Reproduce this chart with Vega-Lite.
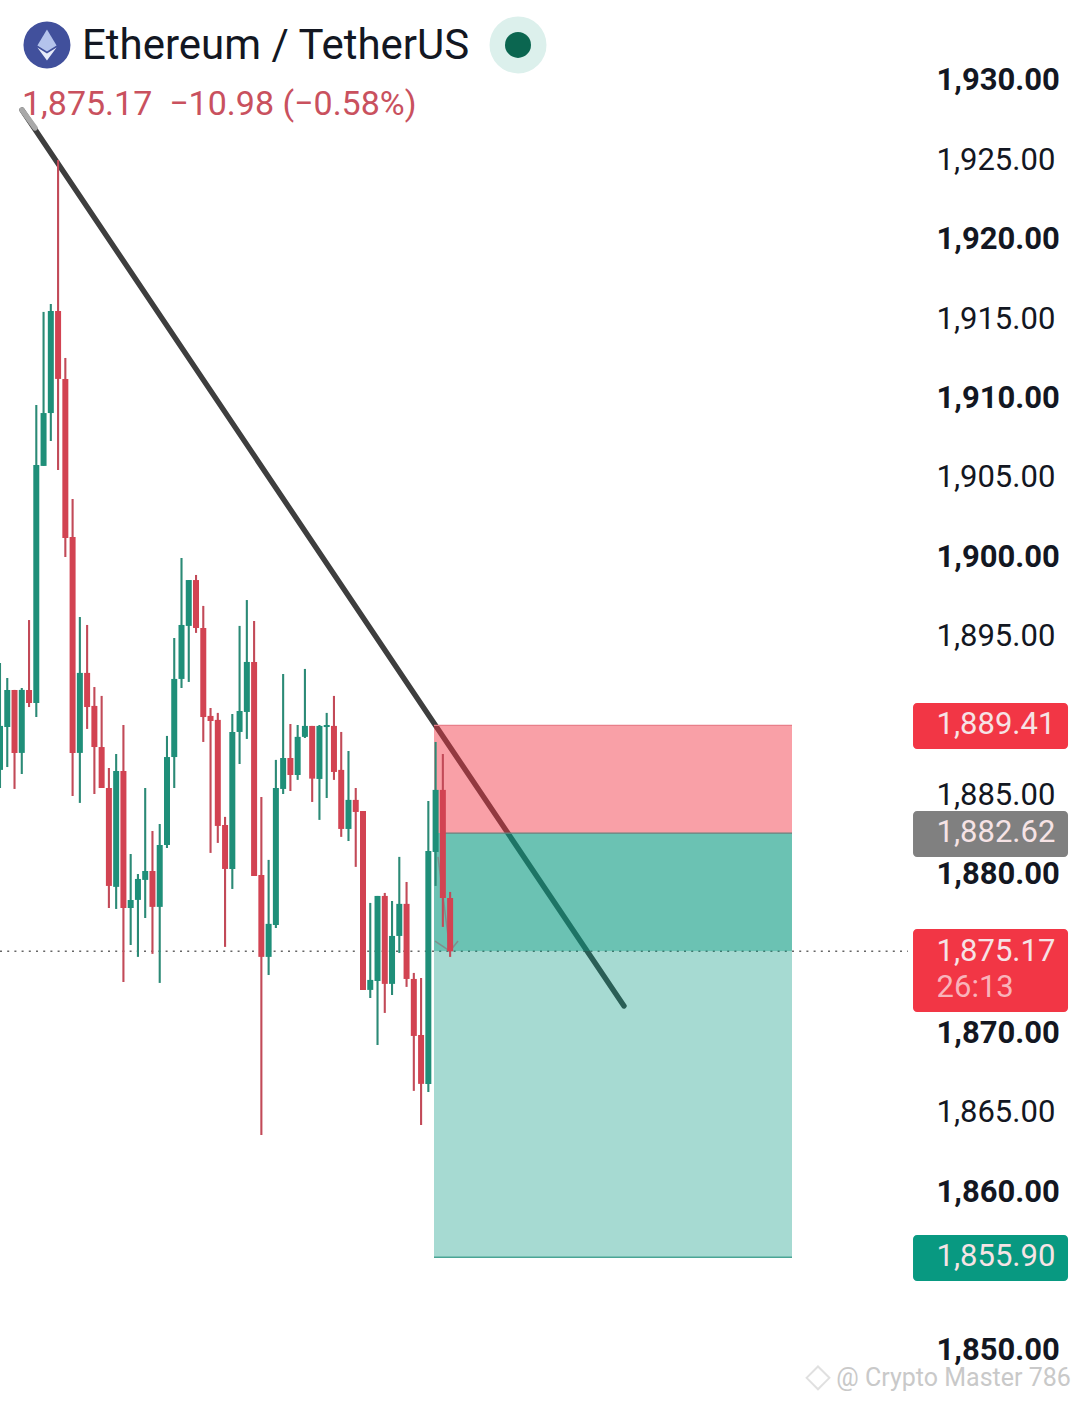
{
"$schema":"https://vega.github.io/schema/vega-lite/v6.json",
"width":1080,"height":1402,"padding":0,"autosize":{"type":"none"},"background":"white",
"config":{"view":{"stroke":null},"text":{"font":"Roboto"},"axis":{"labelFont":"Roboto"}},
"resolve":{"scale":{"fill":"independent","stroke":"independent"},"axis":{"y":"independent"}},
"datasets":{
"candles":[
{"i":0,"dir":"up","open":1886.60,"high":1893.34,"low":1885.46,"close":1889.37},
{"i":1,"dir":"up","open":1889.30,"high":1892.39,"low":1886.78,"close":1891.64},
{"i":2,"dir":"down","open":1891.64,"high":1891.64,"low":1885.40,"close":1887.67},
{"i":3,"dir":"up","open":1887.67,"high":1891.76,"low":1886.34,"close":1891.64},
{"i":4,"dir":"down","open":1891.64,"high":1896.04,"low":1890.56,"close":1890.82},
{"i":5,"dir":"up","open":1890.82,"high":1909.59,"low":1889.93,"close":1905.81},
{"i":6,"dir":"up","open":1905.75,"high":1915.45,"low":1905.75,"close":1909.08},
{"i":7,"dir":"up","open":1909.08,"high":1915.95,"low":1907.32,"close":1915.51},
{"i":8,"dir":"down","open":1915.51,"high":1925.02,"low":1905.49,"close":1911.23},
{"i":9,"dir":"down","open":1911.23,"high":1912.55,"low":1900.01,"close":1901.21},
{"i":10,"dir":"down","open":1901.27,"high":1903.67,"low":1884.96,"close":1887.67},
{"i":11,"dir":"up","open":1887.67,"high":1896.23,"low":1884.52,"close":1892.71},
{"i":12,"dir":"down","open":1892.71,"high":1895.73,"low":1889.18,"close":1890.56},
{"i":13,"dir":"down","open":1890.63,"high":1891.82,"low":1885.08,"close":1888.04},
{"i":14,"dir":"down","open":1888.04,"high":1891.26,"low":1885.46,"close":1885.46},
{"i":15,"dir":"down","open":1885.46,"high":1886.72,"low":1877.90,"close":1879.29},
{"i":16,"dir":"up","open":1879.23,"high":1887.60,"low":1877.84,"close":1886.53},
{"i":17,"dir":"down","open":1886.53,"high":1889.43,"low":1873.24,"close":1877.90},
{"i":18,"dir":"up","open":1877.90,"high":1881.30,"low":1875.57,"close":1878.41},
{"i":19,"dir":"up","open":1878.41,"high":1880.04,"low":1874.82,"close":1879.73},
{"i":20,"dir":"up","open":1879.67,"high":1885.46,"low":1877.27,"close":1880.23},
{"i":21,"dir":"down","open":1880.23,"high":1882.75,"low":1875.01,"close":1877.97},
{"i":22,"dir":"up","open":1877.97,"high":1883.19,"low":1873.18,"close":1881.87},
{"i":23,"dir":"up","open":1881.87,"high":1888.74,"low":1881.68,"close":1887.41},
{"i":24,"dir":"up","open":1887.41,"high":1894.91,"low":1885.46,"close":1892.33},
{"i":25,"dir":"up","open":1892.33,"high":1899.95,"low":1891.76,"close":1895.73},
{"i":26,"dir":"up","open":1895.67,"high":1898.56,"low":1892.14,"close":1898.56},
{"i":27,"dir":"down","open":1898.56,"high":1898.88,"low":1895.23,"close":1895.54},
{"i":28,"dir":"down","open":1895.54,"high":1896.93,"low":1888.36,"close":1889.93},
{"i":29,"dir":"down","open":1890.00,"high":1890.50,"low":1881.37,"close":1889.68},
{"i":30,"dir":"down","open":1889.75,"high":1890.19,"low":1882.00,"close":1883.07},
{"i":31,"dir":"down","open":1883.13,"high":1883.64,"low":1875.45,"close":1880.36},
{"i":32,"dir":"up","open":1880.36,"high":1890.12,"low":1879.10,"close":1888.99},
{"i":33,"dir":"up","open":1888.99,"high":1895.67,"low":1886.97,"close":1890.31},
{"i":34,"dir":"up","open":1890.25,"high":1897.30,"low":1888.55,"close":1893.40},
{"i":35,"dir":"down","open":1893.40,"high":1895.98,"low":1879.92,"close":1879.92},
{"i":36,"dir":"down","open":1879.98,"high":1884.89,"low":1863.60,"close":1874.82},
{"i":37,"dir":"up","open":1874.82,"high":1880.93,"low":1873.68,"close":1876.90},
{"i":38,"dir":"up","open":1876.83,"high":1887.23,"low":1876.64,"close":1885.46},
{"i":39,"dir":"up","open":1885.40,"high":1892.64,"low":1885.08,"close":1887.35},
{"i":40,"dir":"down","open":1887.35,"high":1889.49,"low":1885.27,"close":1886.28},
{"i":41,"dir":"up","open":1886.28,"high":1889.43,"low":1885.97,"close":1888.68},
{"i":42,"dir":"up","open":1888.68,"high":1892.96,"low":1888.61,"close":1889.37},
{"i":43,"dir":"down","open":1889.37,"high":1889.37,"low":1884.58,"close":1886.05},
{"i":44,"dir":"up","open":1886.03,"high":1889.43,"low":1883.45,"close":1889.37},
{"i":45,"dir":"up","open":1889.30,"high":1890.19,"low":1884.83,"close":1889.43},
{"i":46,"dir":"down","open":1889.37,"high":1891.26,"low":1885.97,"close":1886.47},
{"i":47,"dir":"down","open":1886.60,"high":1888.99,"low":1882.38,"close":1882.88},
{"i":48,"dir":"up","open":1882.88,"high":1887.79,"low":1882.12,"close":1884.71},
{"i":49,"dir":"down","open":1884.71,"high":1885.46,"low":1880.49,"close":1883.95},
{"i":50,"dir":"down","open":1884.01,"high":1884.01,"low":1872.74,"close":1872.74},
{"i":51,"dir":"up","open":1872.74,"high":1878.22,"low":1872.23,"close":1873.37},
{"i":52,"dir":"up","open":1873.30,"high":1878.66,"low":1869.27,"close":1878.66},
{"i":53,"dir":"down","open":1878.66,"high":1878.85,"low":1871.29,"close":1873.12},
{"i":54,"dir":"up","open":1873.12,"high":1878.34,"low":1872.42,"close":1876.14},
{"i":55,"dir":"up","open":1876.14,"high":1881.12,"low":1875.07,"close":1878.16},
{"i":56,"dir":"down","open":1878.16,"high":1879.54,"low":1872.93,"close":1873.43},
{"i":57,"dir":"down","open":1873.43,"high":1873.81,"low":1866.38,"close":1869.84},
{"i":58,"dir":"down","open":1869.90,"high":1873.49,"low":1864.23,"close":1866.82},
{"i":59,"dir":"up","open":1866.82,"high":1884.64,"low":1866.31,"close":1881.49},
{"i":60,"dir":"up","open":1881.43,"high":1888.36,"low":1879.29,"close":1885.34},
{"i":61,"dir":"down","open":1885.34,"high":1887.60,"low":1876.71,"close":1878.53},
{"i":62,"dir":"down","open":1878.53,"high":1878.91,"low":1874.82,"close":1875.17}
]},
"layer":[
{"data":{"values":[{"p":1875.17,"a":0,"b":125.07}]},
 "mark":{"type":"rule","stroke":"#666666","strokeWidth":1.5,"strokeDash":[2,5.2]},
 "encoding":{"x":{"field":"a","type":"quantitative","scale":{"domain":[0,148.76],"nice":false,"zero":false,"padding":0},"axis":null},"x2":{"field":"b"},
  "y":{"field":"p","type":"quantitative","title":null,"scale":{"domain":[1846.78,1935.1],"nice":false,"zero":false},
   "axis":{"orient":"left","offset":-936,"values":[1850,1860,1865,1870,1880,1885,1895,1900,1905,1910,1915,1920,1925,1930],"format":",.2f","domain":false,"ticks":false,"grid":false,"title":null,"labelAlign":"left","labelBaseline":"middle","labelPadding":0,"labelOffset":0,"labelFontSize":31,"labelColor":"#131722","labelOverlap":false,
    "labelFontWeight":{"condition":{"test":"datum.value % 10 === 0","value":"bold"},"value":"normal"}}}}},
{"data":{"values":[{"x0":3.03,"p0":1928.17,"x1":85.95,"p1":1871.73}]},
 "mark":{"type":"rule","stroke":"#3e3e3e","strokeWidth":5.4,"strokeCap":"round"},
 "encoding":{"x":{"field":"x0","type":"quantitative","scale":{"domain":[0,148.76],"nice":false,"zero":false,"padding":0},"axis":null},"x2":{"field":"x1"},
  "y":{"field":"p0","type":"quantitative","scale":{"domain":[1846.78,1935.1],"nice":false,"zero":false},"axis":null},"y2":{"field":"p1"}}},
{"data":{"values":[{"x0":3.03,"p0":1928.17,"x1":4.82,"p1":1927.04}]},
 "mark":{"type":"rule","stroke":"#a8a8a8","strokeWidth":5.4,"strokeCap":"round"},
 "encoding":{"x":{"field":"x0","type":"quantitative","scale":{"domain":[0,148.76],"nice":false,"zero":false,"padding":0},"axis":null},"x2":{"field":"x1"},
  "y":{"field":"p0","type":"quantitative","scale":{"domain":[1846.78,1935.1],"nice":false,"zero":false},"axis":null},"y2":{"field":"p1"}}},
{"data":{"values":[
 {"zone":"stop","a":59.78,"b":109.09,"hi":1889.41,"lo":1882.62},
 {"zone":"near","a":59.78,"b":109.09,"hi":1882.62,"lo":1875.17},
 {"zone":"target","a":59.78,"b":109.09,"hi":1875.17,"lo":1855.90}]},
 "mark":{"type":"rect"},
 "encoding":{"x":{"field":"a","type":"quantitative","scale":{"domain":[0,148.76],"nice":false,"zero":false,"padding":0},"axis":null},"x2":{"field":"b"},
  "y":{"field":"hi","type":"quantitative","scale":{"domain":[1846.78,1935.1],"nice":false,"zero":false},"axis":null},"y2":{"field":"lo"},
  "fill":{"field":"zone","type":"nominal","legend":null,"scale":{"domain":["stop","near","target"],"range":["rgba(242,54,69,0.47)","rgba(8,153,129,0.6)","rgba(8,153,129,0.36)"]}}}},
{"data":{"values":[{"p":1889.41,"z":"stop","a":59.78,"b":109.09},{"p":1882.62,"z":"mid","a":61.3,"b":109.09},{"p":1855.90,"z":"target","a":59.78,"b":109.09}]},
 "mark":{"type":"rule","strokeWidth":1.3},
 "encoding":{"x":{"field":"a","type":"quantitative","scale":{"domain":[0,148.76],"nice":false,"zero":false,"padding":0},"axis":null},"x2":{"field":"b"},
  "y":{"field":"p","type":"quantitative","scale":{"domain":[1846.78,1935.1],"nice":false,"zero":false},"axis":null},
  "stroke":{"field":"z","type":"nominal","legend":null,"scale":{"domain":["stop","mid","target"],"range":["#e87f8a","#6f7f7d","#4aa595"]}}}},
{"data":{"values":[
 {"x0":60.33,"p0":1881.12,"x1":61.98,"p1":1875.19},
 {"x0":59.92,"p0":1875.82,"x1":61.98,"p1":1875.19},
 {"x0":63.09,"p0":1875.82,"x1":61.98,"p1":1875.19}]},
 "mark":{"type":"rule","stroke":"#7f8f8c","strokeWidth":1.5},
 "encoding":{"x":{"field":"x0","type":"quantitative","scale":{"domain":[0,148.76],"nice":false,"zero":false,"padding":0},"axis":null},"x2":{"field":"x1"},
  "y":{"field":"p0","type":"quantitative","scale":{"domain":[1846.78,1935.1],"nice":false,"zero":false},"axis":null},"y2":{"field":"p1"}}},
{"data":{"name":"candles"},
 "mark":{"type":"rule","strokeWidth":2.1},
 "encoding":{"x":{"field":"i","type":"quantitative","scale":{"domain":[0,148.76],"nice":false,"zero":false,"padding":0},"axis":null},
  "y":{"field":"low","type":"quantitative","scale":{"domain":[1846.78,1935.1],"nice":false,"zero":false},"axis":null},"y2":{"field":"high"},
  "stroke":{"field":"dir","type":"nominal","legend":null,"scale":{"domain":["up","down"],"range":["#2b8a76","#c24a58"]}}}},
{"data":{"name":"candles"},
 "mark":{"type":"bar","size":6,"orient":"vertical"},
 "encoding":{"x":{"field":"i","type":"quantitative","scale":{"domain":[0,148.76],"nice":false,"zero":false,"padding":0},"axis":null},
  "y":{"field":"open","type":"quantitative","scale":{"domain":[1846.78,1935.1],"nice":false,"zero":false},"axis":null},"y2":{"field":"close"},
  "fill":{"field":"dir","type":"nominal","legend":null,"scale":{"domain":["up","down"],"range":["#1f8f79","#d24352"]}}}},
{"data":{"values":[
 {"kind":"stop","a":125.76,"b":147.11,"hi":1890.82,"lo":1887.92},
 {"kind":"mark","a":125.76,"b":147.11,"hi":1884.01,"lo":1881.12},
 {"kind":"stop","a":125.76,"b":147.11,"hi":1876.58,"lo":1871.35},
 {"kind":"target","a":125.76,"b":147.11,"hi":1857.30,"lo":1854.41}]},
 "mark":{"type":"rect","cornerRadius":4},
 "encoding":{"x":{"field":"a","type":"quantitative","scale":{"domain":[0,148.76],"nice":false,"zero":false,"padding":0},"axis":null},"x2":{"field":"b"},
  "y":{"field":"hi","type":"quantitative","scale":{"domain":[1846.78,1935.1],"nice":false,"zero":false},"axis":null},"y2":{"field":"lo"},
  "fill":{"field":"kind","type":"nominal","legend":null,"scale":{"domain":["stop","mark","target"],"range":["#f23645","#808080","#089981"]}}}},
{"data":{"values":[
 {"t":"1,889.41","a":129.0,"p":1889.45},
 {"t":"1,882.62","a":129.0,"p":1882.62},
 {"t":"1,875.17","a":129.0,"p":1875.12},
 {"t":"1,855.90","a":129.0,"p":1855.92}]},
 "mark":{"type":"text","font":"Roboto","fontSize":31,"align":"left","baseline":"middle","fill":"#f6e3e5"},
 "encoding":{"x":{"field":"a","type":"quantitative","scale":{"domain":[0,148.76],"nice":false,"zero":false,"padding":0},"axis":null},
  "y":{"field":"p","type":"quantitative","scale":{"domain":[1846.78,1935.1],"nice":false,"zero":false},"axis":null},"text":{"field":"t"}}},
{"data":{"values":[{"t":"26:13","a":129.0,"p":1872.85}]},
 "mark":{"type":"text","font":"Roboto","fontSize":31,"align":"left","baseline":"middle","fill":"#f9b3ba"},
 "encoding":{"x":{"field":"a","type":"quantitative","scale":{"domain":[0,148.76],"nice":false,"zero":false,"padding":0},"axis":null},
  "y":{"field":"p","type":"quantitative","scale":{"domain":[1846.78,1935.1],"nice":false,"zero":false},"axis":null},"text":{"field":"t"}}},
{"data":{"values":[{"t":"Ethereum / TetherUS","a":11.29,"p":1932.2}]},
 "mark":{"type":"text","font":"Roboto","fontSize":42,"align":"left","baseline":"middle","fill":"#131722"},
 "encoding":{"x":{"field":"a","type":"quantitative","scale":{"domain":[0,148.76],"nice":false,"zero":false,"padding":0},"axis":null},
  "y":{"field":"p","type":"quantitative","scale":{"domain":[1846.78,1935.1],"nice":false,"zero":false},"axis":null},"text":{"field":"t"}}},
{"data":{"values":[{"t":"1,875.17\u00a0\u00a0−10.98 (−0.58%)","a":3.03,"p":1928.48}]},
 "mark":{"type":"text","font":"Roboto","fontSize":34,"align":"left","baseline":"middle","fill":"#c9515e"},
 "encoding":{"x":{"field":"a","type":"quantitative","scale":{"domain":[0,148.76],"nice":false,"zero":false,"padding":0},"axis":null},
  "y":{"field":"p","type":"quantitative","scale":{"domain":[1846.78,1935.1],"nice":false,"zero":false},"axis":null},"text":{"field":"t"}}},
{"data":{"values":[{"t":"@ Crypto Master 786","a":115.2,"p":1848.3}]},
 "mark":{"type":"text","font":"Roboto","fontSize":25,"align":"left","baseline":"middle","fill":"#c9c9c9"},
 "encoding":{"x":{"field":"a","type":"quantitative","scale":{"domain":[0,148.76],"nice":false,"zero":false,"padding":0},"axis":null},
  "y":{"field":"p","type":"quantitative","scale":{"domain":[1846.78,1935.1],"nice":false,"zero":false},"axis":null},"text":{"field":"t"}}},
{"data":{"values":[{"a":112.67,"p":1848.3}]},
 "mark":{"type":"point","shape":"diamond","size":520,"filled":false,"stroke":"#d4d4d4","strokeWidth":2},
 "encoding":{"x":{"field":"a","type":"quantitative","scale":{"domain":[0,148.76],"nice":false,"zero":false,"padding":0},"axis":null},
  "y":{"field":"p","type":"quantitative","scale":{"domain":[1846.78,1935.1],"nice":false,"zero":false},"axis":null}}},
{"data":{"values":[{"a":6.47,"p":1932.27}]},
 "mark":{"type":"point","shape":"circle","size":2209,"filled":true,"fill":"#41509c","opacity":1,"stroke":null},
 "encoding":{"x":{"field":"a","type":"quantitative","scale":{"domain":[0,148.76],"nice":false,"zero":false,"padding":0},"axis":null},
  "y":{"field":"p","type":"quantitative","scale":{"domain":[1846.78,1935.1],"nice":false,"zero":false},"axis":null}}},
{"data":{"values":[{"a":6.47,"p":1932.27}]},
 "mark":{"type":"point","shape":"M0,-1 L0.62,0.03 L0,0.42 L-0.62,0.03 Z","size":961,"filled":true,"fill":"#b4c3ec","opacity":1,"stroke":null},
 "encoding":{"x":{"field":"a","type":"quantitative","scale":{"domain":[0,148.76],"nice":false,"zero":false,"padding":0},"axis":null},
  "y":{"field":"p","type":"quantitative","scale":{"domain":[1846.78,1935.1],"nice":false,"zero":false},"axis":null}}},
{"data":{"values":[{"a":6.47,"p":1932.27}]},
 "mark":{"type":"point","shape":"M-0.62,0.17 L0,0.56 L0.62,0.17 L0,1 Z","size":961,"filled":true,"fill":"#e6ebf9","opacity":1,"stroke":null},
 "encoding":{"x":{"field":"a","type":"quantitative","scale":{"domain":[0,148.76],"nice":false,"zero":false,"padding":0},"axis":null},
  "y":{"field":"p","type":"quantitative","scale":{"domain":[1846.78,1935.1],"nice":false,"zero":false},"axis":null}}},
{"data":{"values":[{"a":71.35,"p":1932.27}]},
 "mark":{"type":"point","shape":"circle","size":3249,"filled":true,"fill":"#dcf0ec","opacity":1,"stroke":null},
 "encoding":{"x":{"field":"a","type":"quantitative","scale":{"domain":[0,148.76],"nice":false,"zero":false,"padding":0},"axis":null},
  "y":{"field":"p","type":"quantitative","scale":{"domain":[1846.78,1935.1],"nice":false,"zero":false},"axis":null}}},
{"data":{"values":[{"a":71.35,"p":1932.27}]},
 "mark":{"type":"point","shape":"circle","size":676,"filled":true,"fill":"#0b6650","opacity":1,"stroke":null},
 "encoding":{"x":{"field":"a","type":"quantitative","scale":{"domain":[0,148.76],"nice":false,"zero":false,"padding":0},"axis":null},
  "y":{"field":"p","type":"quantitative","scale":{"domain":[1846.78,1935.1],"nice":false,"zero":false},"axis":null}}}
]}
